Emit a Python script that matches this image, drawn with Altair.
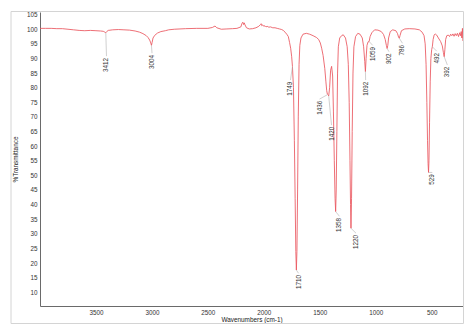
import altair as alt
import pandas as pd

# ---- spectrum (wavenumber cm-1, %T) ----
wavenumber = [
    4000, 3950, 3900, 3850, 3800, 3750, 3700, 3650, 3600, 3550, 3500, 3460, 3435, 3420, 3412, 3404, 3390,
    3350, 3300, 3250, 3200, 3150, 3110, 3080, 3050, 3035, 3020, 3010, 3004, 2998, 2990, 2975, 2950, 2920,
    2880, 2850, 2800, 2700, 2600, 2500, 2460, 2436, 2420, 2380, 2330, 2280, 2240, 2205, 2195, 2188, 2180,
    2175, 2168, 2155, 2130, 2100, 2070, 2045, 2030, 2024, 2018, 2010, 2000, 1990, 1980, 1970, 1955, 1940,
    1920, 1900, 1880, 1860, 1840, 1826, 1810, 1795, 1781, 1770, 1760, 1751, 1744, 1735, 1727, 1720, 1714,
    1709, 1704, 1698, 1692, 1685, 1678, 1668, 1650, 1620, 1590, 1560, 1530, 1510, 1495, 1483, 1470, 1455,
    1445, 1438, 1432, 1426, 1420, 1412, 1403, 1394, 1385, 1378, 1370, 1363, 1358, 1353, 1347, 1341, 1334,
    1322, 1305, 1290, 1270, 1255, 1245, 1237, 1230, 1225, 1221, 1216, 1210, 1203, 1195, 1180, 1160, 1140,
    1120, 1108, 1098, 1092, 1086, 1078, 1068, 1059, 1050, 1035, 1010, 980, 950, 930, 915, 905, 898, 892,
    885, 870, 848, 820, 805, 795, 789, 783, 770, 740, 700, 650, 610, 585, 568, 558, 550, 543, 537, 532,
    528, 524, 519, 513, 507, 500, 494, 487, 478, 468, 455, 440, 420, 405, 395, 388, 382, 375, 365, 351,
    340, 330, 320, 310, 300, 290, 280, 270, 260, 250, 242, 236, 230, 225, 221,
]
transmittance = [
    100.3, 100.3, 100.3, 100.2, 100.2, 100.0, 99.8, 99.6, 99.5, 99.6, 99.5, 99.4, 99.3, 99.0, 98.8, 99.2, 99.6,
    99.8, 99.9, 99.8, 99.7, 99.4, 99.0, 98.5, 97.8, 97.2, 96.3, 95.3, 94.5, 95.5, 97.0, 97.9, 98.7, 99.2,
    99.5, 99.8, 100.0, 100.2, 100.3, 100.3, 100.6, 101.1, 100.5, 100.0, 100.1, 100.2, 100.3, 100.8, 102.0, 102.4, 101.6,
    102.2, 101.5, 100.5, 100.1, 100.2, 100.5, 101.0, 101.6, 101.9, 101.2, 101.5, 101.0, 101.2, 100.8, 101.0, 100.7, 100.8,
    100.5, 100.5, 100.3, 100.1, 99.9, 99.6, 99.0, 98.3, 97.5, 95.5, 93.5, 90.6, 87.2, 80.0, 62.0, 42.0, 24.0,
    17.6, 24.0, 45.0, 70.0, 88.0, 94.5, 97.0, 98.3, 98.6, 98.3, 97.8, 97.2, 96.5, 95.3, 93.5, 91.0, 86.5,
    82.0, 79.0, 77.8, 77.6, 77.2, 80.0, 86.0, 87.3, 84.0, 72.0, 55.0, 42.0, 37.6, 45.0, 65.0, 85.0, 94.0,
    97.0, 97.8, 98.1, 97.0, 94.0, 88.0, 75.0, 55.0, 40.0, 31.9, 42.0, 65.0, 85.0, 94.0, 97.5, 98.6, 98.3,
    97.0, 94.0, 89.0, 85.5, 90.0, 94.5, 95.7, 95.8, 97.5, 98.8, 99.8, 99.7, 99.2, 98.2, 96.5, 94.5, 93.4, 94.5,
    97.0, 99.2, 99.8, 99.5, 98.5, 97.2, 96.9, 97.8, 99.5, 100.1, 100.2, 100.1, 99.8, 99.0, 97.8, 95.0, 88.0, 75.0, 62.0, 54.0,
    51.0, 55.0, 68.0, 82.0, 90.0, 93.0, 94.0, 96.5, 98.0, 98.4, 98.0, 97.0, 95.8, 94.3, 92.0, 90.6, 93.0, 96.5, 97.8, 98.0,
    97.5, 98.3, 97.8, 98.4, 97.6, 98.5, 97.8, 98.6, 97.5, 98.8, 97.8, 99.2, 97.0, 100.3, 96.0,
]

# ---- peak annotations ----
peak_labels = ["3412", "3004", "1749", "1710", "1436", "1420", "1358", "1220",
               "1092", "1059", "902", "786", "529", "492", "392"]
peak_wn = [3412, 3004, 1744, 1709, 1432, 1420, 1358, 1221, 1092, 1059, 898, 789, 528, 494, 388]
peak_T = [98.8, 94.5, 87.2, 17.6, 77.6, 77.2, 37.6, 31.9, 85.5, 95.8, 93.4, 96.9, 51.0, 94.0, 90.6]
text_wn = [3406, 2999, 1762, 1690, 1502, 1395, 1324, 1176, 1090, 1027, 881, 761, 494, 455, 360]
text_T = [90.2, 91.2, 82.0, 15.9, 75.5, 66.6, 35.4, 29.6, 82.0, 93.9, 91.7, 94.6, 50.4, 91.9, 87.2]

spec = pd.DataFrame({"wn": wavenumber, "T": transmittance})
ann = pd.DataFrame({
    "label": peak_labels,
    "wn": peak_wn,
    "T": peak_T,
    "wn2": text_wn,
    "T2": [t + 0.6 for t in text_T],
    "twn": text_wn,
    "tT": text_T,
})

FONT = "Liberation Sans"
x_scale = alt.Scale(domain=[220, 4000], reverse=True, nice=False, zero=False)
y_scale = alt.Scale(domain=[5.3, 105.9], nice=False, zero=False)

x_axis = alt.Axis(values=[500, 1000, 1500, 2000, 2500, 3000, 3500], title="Wavenumbers (cm-1)",
                  labelPadding=3, titlePadding=1, format="d")
y_axis = alt.Axis(values=list(range(10, 106, 5)), title="%Transmittance", labelPadding=3,
                  titleX=-25, titleY=147, titleAngle=270, titleAlign="center",
                  titleBaseline="middle", format="d")

frame = alt.Chart(pd.DataFrame({"a": [0]})).mark_rect(
    fillOpacity=0, stroke="#d4d4d4", strokeWidth=1
).encode(x=alt.value(-29), x2=alt.value(423.5), y=alt.value(-0.5), y2=alt.value(311.5))

line = alt.Chart(spec).mark_line(color="#ea555d", strokeWidth=0.85, clip=True).encode(
    x=alt.X("wn:Q", scale=x_scale, axis=x_axis),
    y=alt.Y("T:Q", scale=y_scale, axis=y_axis),
)

leaders = alt.Chart(ann).mark_rule(color="#b0b0b0", strokeWidth=0.6).encode(
    x=alt.X("wn:Q", scale=x_scale, axis=x_axis),
    y=alt.Y("T:Q", scale=y_scale, axis=y_axis),
    x2="wn2:Q",
    y2="T2:Q",
)

labels = alt.Chart(ann).mark_text(
    angle=270, align="right", baseline="middle", font=FONT, fontSize=6.3, color="#333333"
).encode(
    x=alt.X("twn:Q", scale=x_scale, axis=x_axis),
    y=alt.Y("tT:Q", scale=y_scale, axis=y_axis),
    text="label:N",
)

chart = alt.layer(frame, line, leaders, labels).properties(
    width=423, height=294,
    padding={"left": 40, "top": 12, "right": 11, "bottom": 29},
    autosize=alt.AutoSizeParams(type="none"),
).configure_view(stroke="transparent").configure_axis(
    domainColor="#6a6a6a", domainWidth=1, ticks=False, tickSize=0, grid=False,
    labelFont=FONT, labelFontSize=6.3, labelColor="#333333",
    titleFont=FONT, titleFontSize=6.4, titleFontWeight="normal", titleColor="#222222",
)

chart.save("out.html", embed_options={"renderer": "svg", "actions": False})
